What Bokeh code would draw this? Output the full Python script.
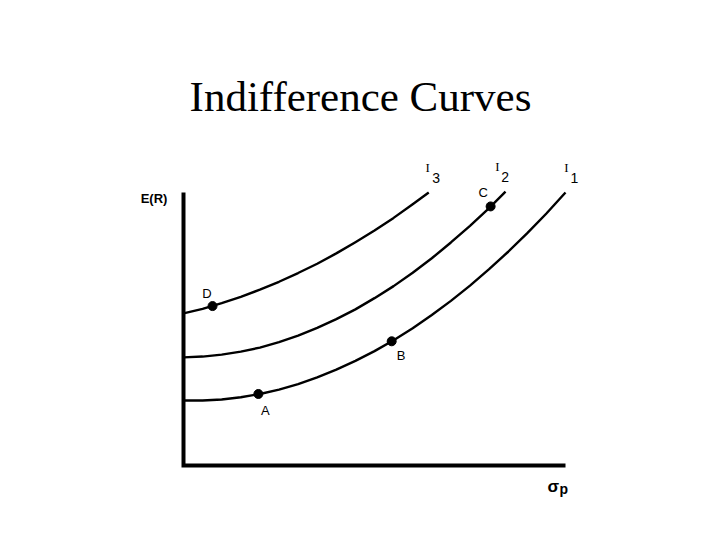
from bokeh.plotting import figure
from bokeh.models import Range1d
from bokeh.core.properties import value
from bokeh.embed import file_html
from bokeh.resources import INLINE

# ---- data ----
title_text = "Indifference Curves"
x_label = "σ"
x_label_sub = "p"
y_label = "E(R)"

axis_max_sigma = 10.0
axis_max_er = 10.0

i1_sigma = [0.0, 0.5, 1.0, 1.5, 2.0, 2.5, 3.0, 3.5, 4.0, 4.5, 5.0,
            5.5, 6.0, 6.5, 7.0, 7.5, 8.0, 8.5, 9.0, 9.5, 10.0]
i1_er = [2.38, 2.38, 2.42, 2.50, 2.62, 2.78, 2.98, 3.23, 3.51, 3.83, 4.19,
         4.59, 5.03, 5.51, 6.03, 6.59, 7.19, 7.83, 8.51, 9.23, 10.0]

i2_sigma = [0.0, 0.5, 1.0, 1.5, 2.0, 2.5, 3.0, 3.5, 4.0, 4.5, 5.0,
            5.5, 6.0, 6.5, 7.0, 7.5, 8.0, 8.43]
i2_er = [3.96, 3.99, 4.06, 4.17, 4.32, 4.52, 4.76, 5.04, 5.36, 5.72, 6.13,
         6.57, 7.06, 7.59, 8.17, 8.78, 9.43, 10.03]

i3_sigma = [0.0, 0.5, 1.0, 1.5, 2.0, 2.5, 3.0, 3.5, 4.0, 4.5, 5.0,
            5.5, 6.0, 6.42]
i3_er = [5.57, 5.74, 5.95, 6.18, 6.44, 6.73, 7.05, 7.39, 7.77, 8.18, 8.61,
         9.07, 9.57, 10.0]

curve_names = ["1", "2", "3"]

point_names = ["A", "B", "C", "D"]
point_sigma = [1.96, 5.45, 8.04, 0.76]
point_er = [2.62, 4.55, 9.49, 5.84]

# ---- layout (screen offsets in px) ----
point_label_dx = [7, 9.5, -7.5, -5.5]
point_label_dy = [17, 14, -14, -13]
curve_I_dx = [1, -8, -1]
curve_num_dx = [9, -0.5, 7.5]

W, H = 704, 524
px_per_x = 38.2
px_per_y = 27.3
ox, oy = 183, 465  # origin position inside canvas

p = figure(
    width=W, height=H, output_backend="svg", toolbar_location=None,
    x_range=Range1d(-ox / px_per_x, (W - ox) / px_per_x),
    y_range=Range1d(-(H - oy) / px_per_y, oy / px_per_y),
    x_axis_type=None, y_axis_type=None, min_border=0,
)
p.grid.visible = False
p.outline_line_color = None
p.background_fill_color = "white"
p.border_fill_color = "white"

# axes drawn as a single L-shaped line
p.line([0, 0, axis_max_sigma], [axis_max_er, 0, 0], line_color="black",
       line_width=4, line_join="miter", line_cap="butt")

# curves
for xs, ys in [(i1_sigma, i1_er), (i2_sigma, i2_er), (i3_sigma, i3_er)]:
    p.line(xs, ys, line_color="black", line_width=2.4, line_join="round")

# points
p.scatter(point_sigma, point_er, size=9, fill_color="black", line_color="black")
p.text(x=point_sigma, y=point_er, text=point_names, x_offset=point_label_dx,
       y_offset=point_label_dy, text_font=value("Liberation Sans"),
       text_font_size="13px", text_align="center", text_baseline="alphabetic",
       text_color="black")

# curve labels at their ends
ends_x = [i1_sigma[-1], i2_sigma[-1], i3_sigma[-1]]
ends_y = [i1_er[-1], i2_er[-1], i3_er[-1]]
p.text(x=ends_x, y=ends_y, text=["I"] * 3, x_offset=curve_I_dx, y_offset=[-25] * 3,
       text_font=value("Liberation Serif"), text_font_size="13px",
       text_align="center", text_baseline="alphabetic", text_color="black")
p.text(x=ends_x, y=ends_y, text=curve_names, x_offset=curve_num_dx, y_offset=[-15] * 3,
       text_font=value("Liberation Sans"), text_font_size="14px",
       text_align="center", text_baseline="alphabetic", text_color="black")

# title
p.text(x=[(360 - ox) / px_per_x], y=[(oy - 96) / px_per_y], text=[title_text],
       text_font=value("Liberation Serif"), text_font_size="43px",
       text_align="center", text_baseline="alphabetic", text_color="black")

# axis labels
p.text(x=[0], y=[axis_max_er], text=[y_label], x_offset=[-29.5], y_offset=[6],
       text_font=value("Liberation Sans"), text_font_style="bold", text_font_size="13px",
       text_align="center", text_baseline="alphabetic", text_color="black")
p.text(x=[axis_max_sigma], y=[0], text=[x_label], x_offset=[-18], y_offset=[21],
       text_font=value("Liberation Sans"), text_font_style="bold", text_font_size="17px",
       text_align="left", text_baseline="alphabetic", text_color="black")
p.text(x=[axis_max_sigma], y=[0], text=[x_label_sub], x_offset=[-6], y_offset=[23],
       text_font=value("Liberation Sans"), text_font_style="bold", text_font_size="14px",
       text_align="left", text_baseline="alphabetic", text_color="black")

open("out.html", "w").write(file_html(p, INLINE))
